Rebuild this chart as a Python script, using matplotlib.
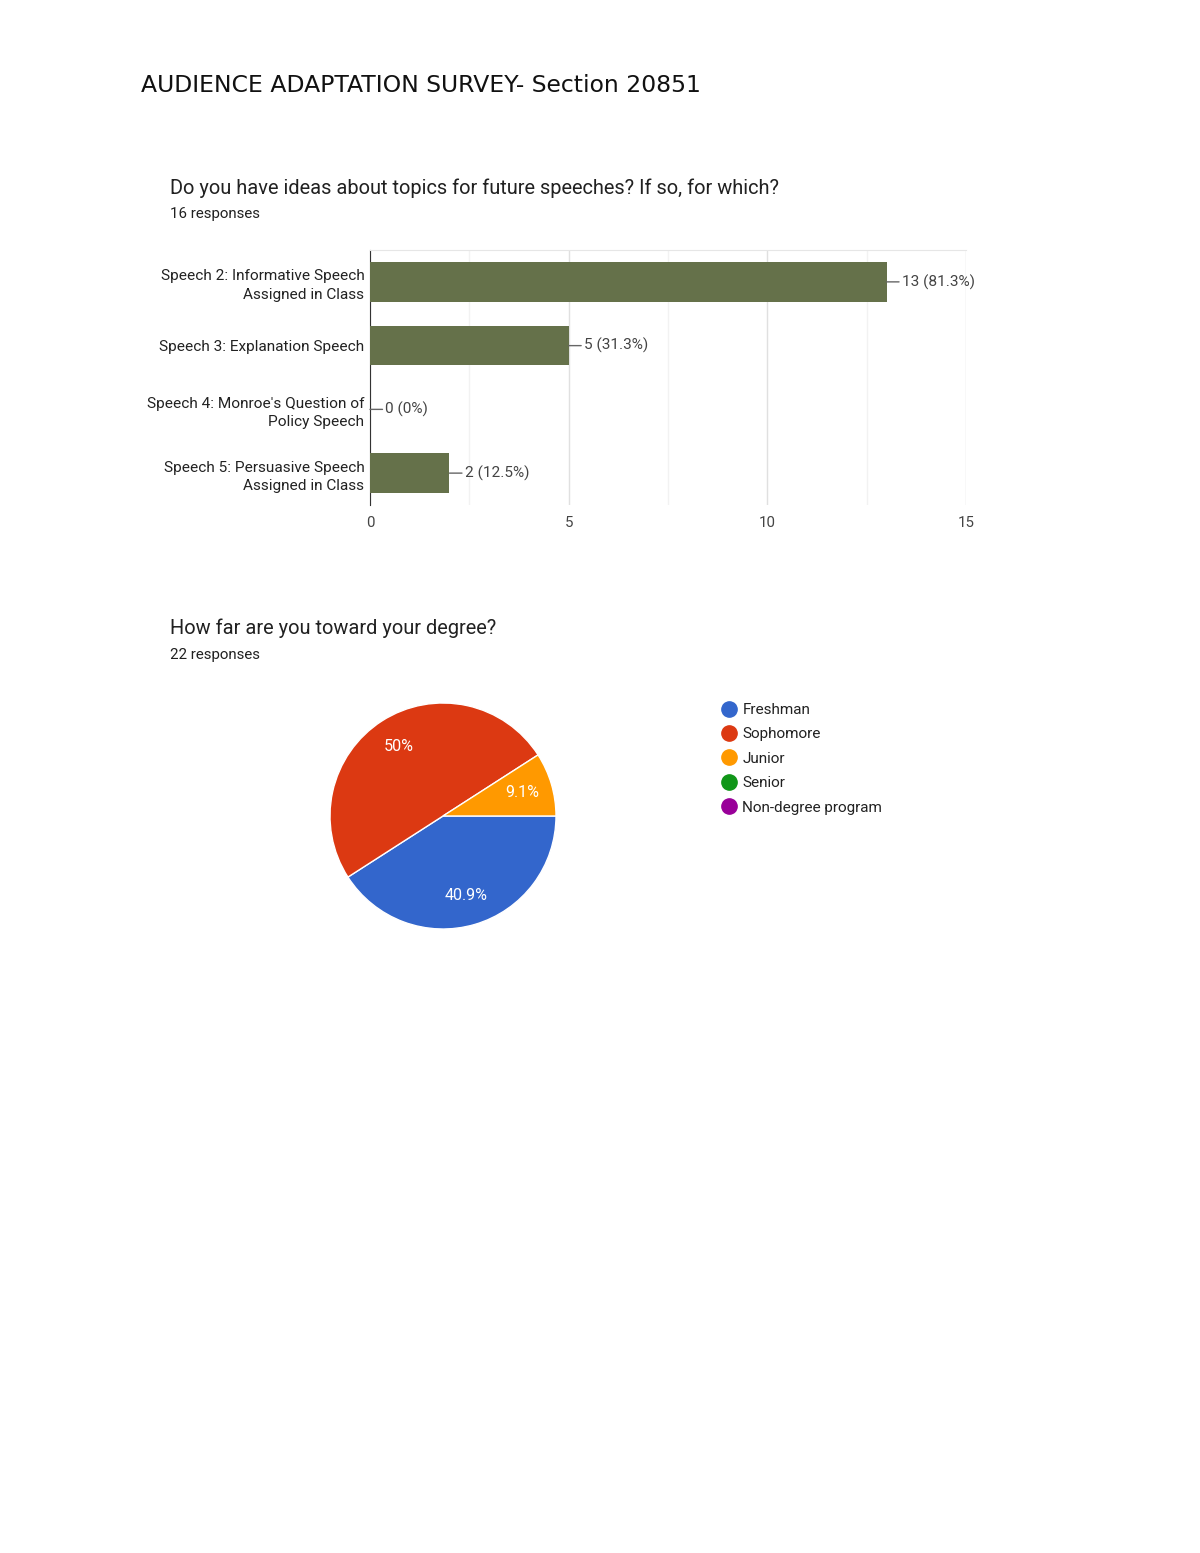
import matplotlib
matplotlib.use("Agg")
import matplotlib.pyplot as plt
from matplotlib.lines import Line2D

# question 1 data
topics = ["Speech 2: Informative Speech\nAssigned in Class",
          "Speech 3: Explanation Speech",
          "Speech 4: Monroe's Question of\nPolicy Speech",
          "Speech 5: Persuasive Speech\nAssigned in Class"]
topic_counts = [13, 5, 0, 2]
topic_total = 16

# question 2 data
years = ["Freshman", "Sophomore", "Junior", "Senior", "Non-degree program"]
year_counts = [9, 11, 2, 0, 0]
year_total = 22
year_colors = ["#3366cc", "#dc3912", "#ff9900", "#109618", "#990099"]


def pct(v):
    # round half up, drop trailing .0 like google forms
    v = int(v * 10 + 0.5 + 1e-9) / 10.0
    s = "%.1f" % v
    if s.endswith(".0"):
        s = s[:-2]
    return s + "%"


fig = plt.figure(figsize=(12, 15.53), dpi=100)
fig.patch.set_facecolor("white")

fig.text(141/1200, 1-85/1553, "AUDIENCE ADAPTATION SURVEY- Section 20851",
         family="DejaVu Sans", fontsize=16.9, va="center", ha="left", color="#111111")

# ---- bar chart ----
fig.text(170/1200, 1-188/1553, "Do you have ideas about topics for future speeches? If so, for which?",
         family="Roboto", fontsize=14.4, va="center", color="#212121")
fig.text(170/1200, 1-214/1553, "%d responses" % topic_total,
         family="Roboto", fontsize=10.8, va="center", color="#212121")

ax = fig.add_axes([370/1200, 1-505/1553, 596/1200, 255/1553])
ypos = list(range(len(topics)))
ax.barh(ypos, topic_counts, height=0.62, color="#65714a", zorder=3)
ax.set_xlim(0, 15)
ax.set_ylim(3.5, -0.5)
ax.set_xticks([0, 5, 10, 15])
ax.set_xticks([2.5, 7.5, 12.5], minor=True)
ax.set_yticks(ypos)
ax.set_yticklabels(topics, family="Roboto", fontsize=11.1, color="#222222")
for lab in ax.get_yticklabels():
    lab.set_linespacing(1.4)
ax.set_xticklabels(["0", "5", "10", "15"], family="Roboto", fontsize=10.8, color="#444444")
ax.tick_params(axis="both", which="both", length=0)
ax.tick_params(axis="y", pad=4)
ax.tick_params(axis="x", pad=8)
ax.grid(axis="x", which="major", color="#e0e0e0", linewidth=1, zorder=0)
ax.grid(axis="x", which="minor", color="#f2f2f2", linewidth=1, zorder=0)
ax.spines["left"].set_color("#333333")
ax.spines["top"].set_color("#e6e6e6")
ax.spines["right"].set_visible(False)
ax.spines["bottom"].set_visible(False)

for i, v in enumerate(topic_counts):
    ax.annotate("%d (%s)" % (v, pct(100.0 * v / topic_total)), xy=(v, i),
                xytext=(11, 0), textcoords="offset points", va="center", ha="left",
                family="Roboto", fontsize=11.1, color="#444444",
                arrowprops=dict(arrowstyle="-", color="#666666", lw=1,
                                shrinkA=0, shrinkB=0, relpos=(0, 0.5)),
                annotation_clip=False)

# ---- pie chart ----
fig.text(170/1200, 1-628/1553, "How far are you toward your degree?",
         family="Roboto", fontsize=14.4, va="center", color="#212121")
fig.text(170/1200, 1-655/1553, "%d responses" % year_total,
         family="Roboto", fontsize=10.8, va="center", color="#212121")

pax = fig.add_axes([330/1200, 1-929/1553, 226/1200, 226/1553])
nz = [i for i, v in enumerate(year_counts) if v > 0]
wedges, texts, autotexts = pax.pie(
    [year_counts[i] for i in nz], colors=[year_colors[i] for i in nz],
    startangle=0, counterclock=False, radius=1,
    autopct=lambda p: pct(p), pctdistance=0.73,
    wedgeprops=dict(edgecolor="white", linewidth=1),
    textprops=dict(family="Roboto", fontsize=11.6, color="white"))
pax.set_xlim(-1, 1)
pax.set_ylim(-1, 1)
pax.set_aspect("equal")

handles = [Line2D([0], [0], marker="o", linestyle="", markersize=11,
                  markerfacecolor=c, markeredgecolor=c) for c in year_colors]
leg = fig.legend(handles, years, loc="upper left",
                 bbox_to_anchor=(721/1200, 1-703/1553), frameon=False,
                 prop=dict(family="Roboto", size=11), labelspacing=0.68,
                 handlelength=1.0, handletextpad=0.4, borderaxespad=0, borderpad=0)
for t in leg.get_texts():
    t.set_color("#222222")

fig.savefig("out.png", dpi=100, facecolor="white")
